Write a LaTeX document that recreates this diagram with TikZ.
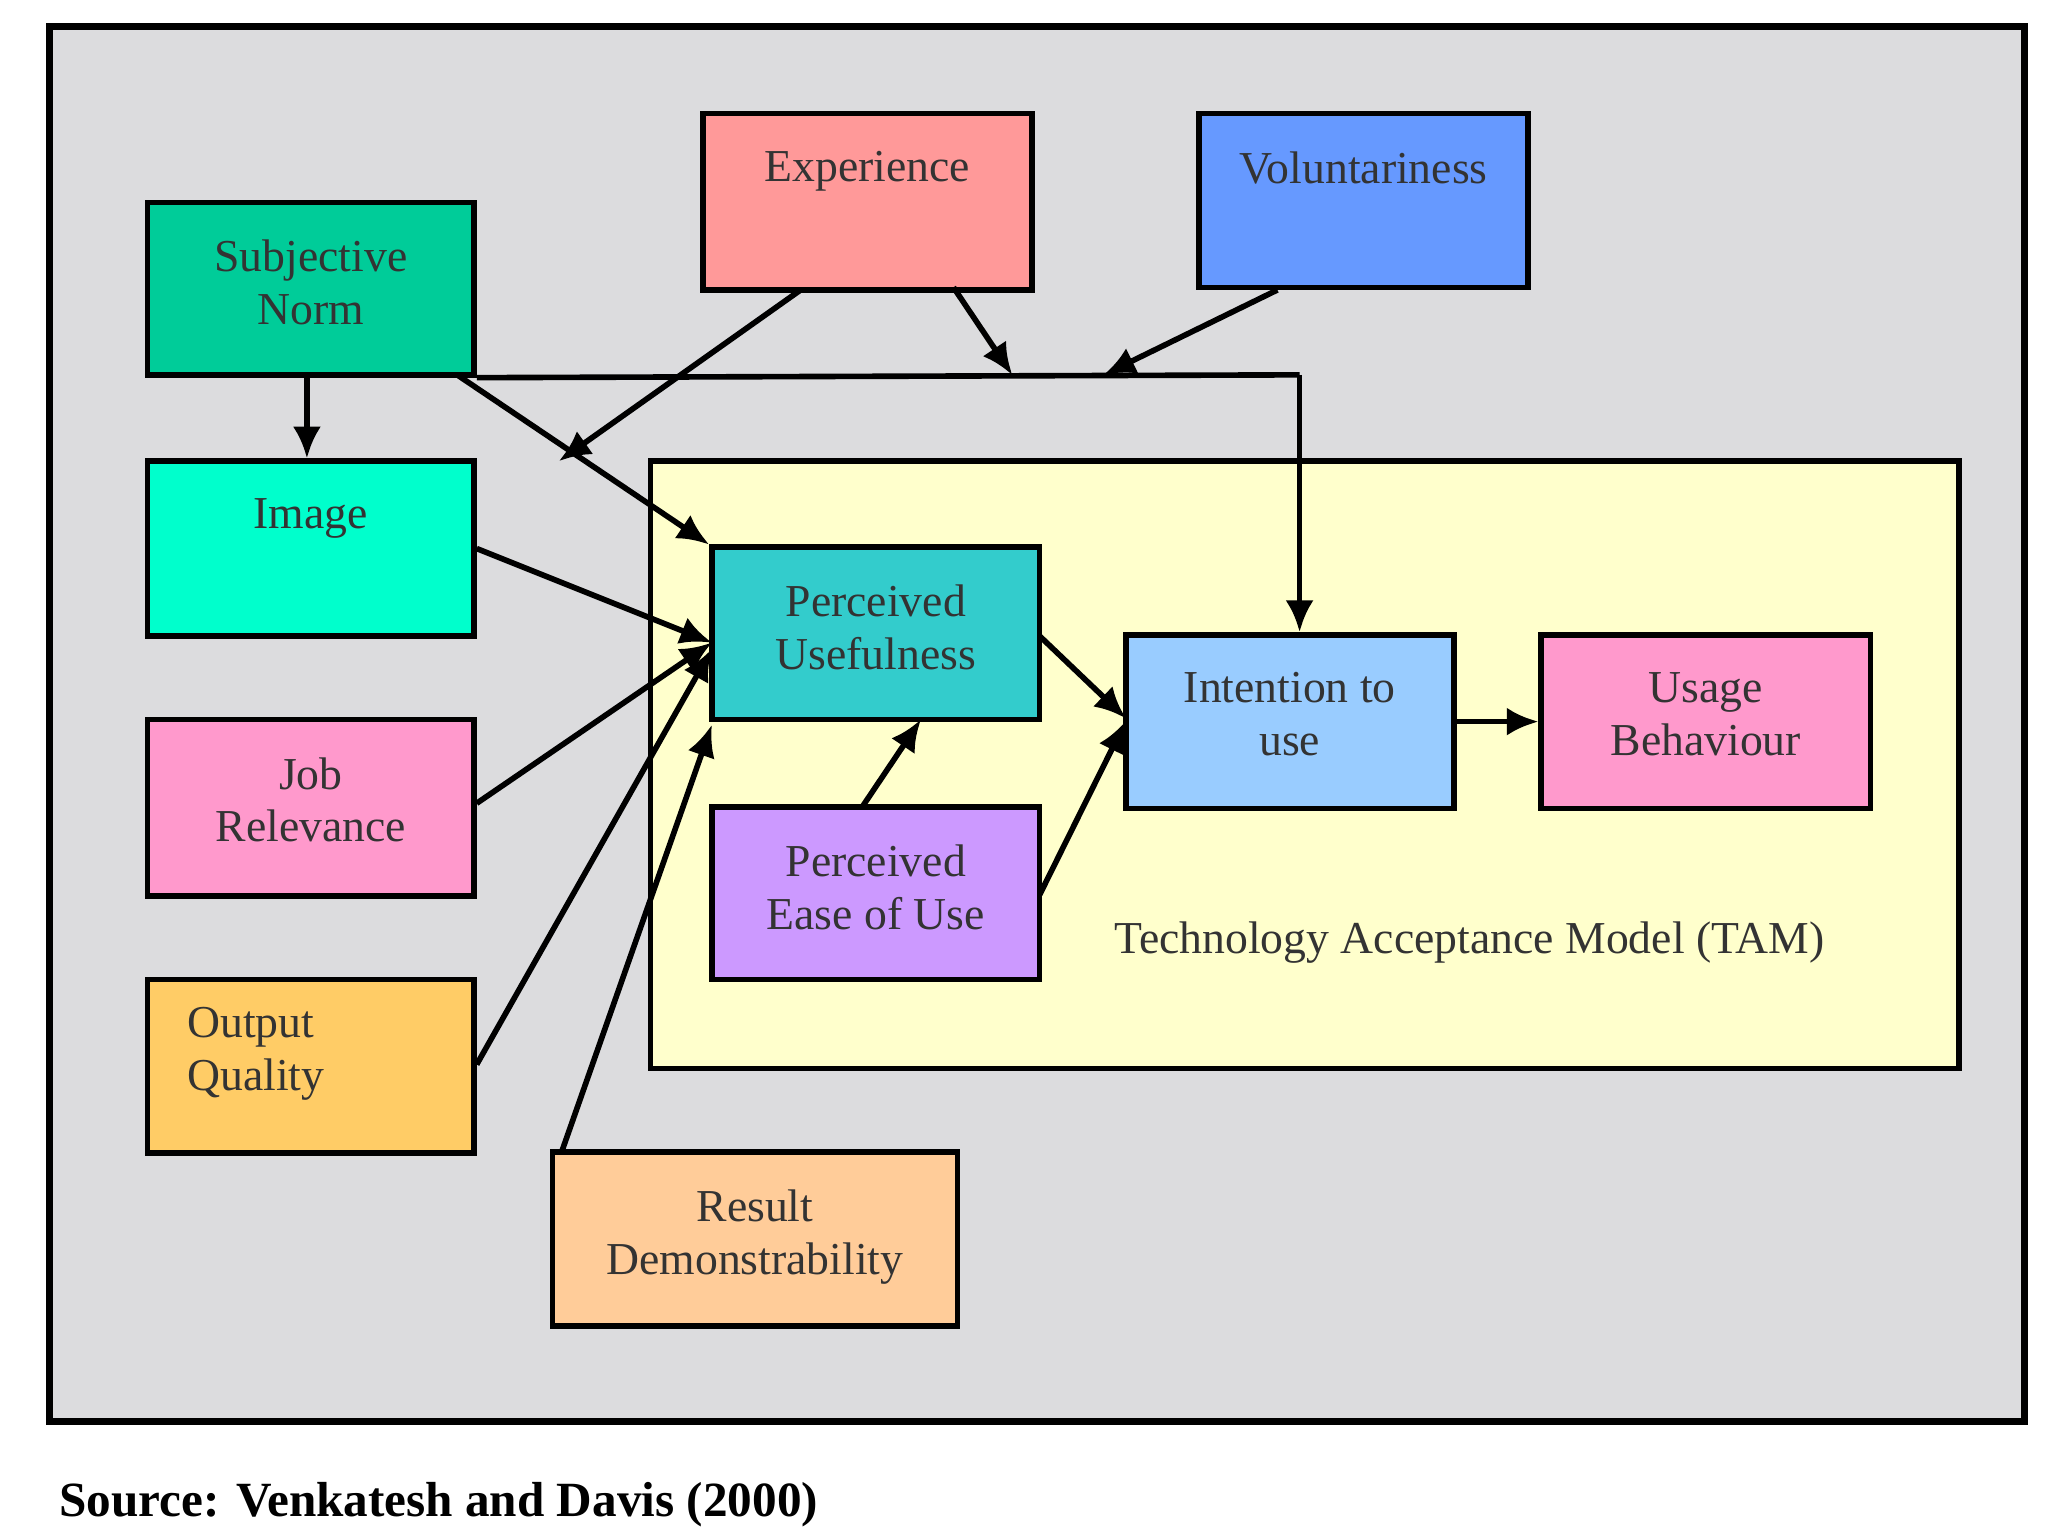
\documentclass[tikz,border=0pt]{standalone}
\usepackage{fontspec}
\setmainfont{Liberation Serif}
\usetikzlibrary{fit,arrows.meta}
\definecolor{bg}{HTML}{DCDCDE}
\definecolor{tam}{HTML}{FFFFCC}
\definecolor{cexp}{HTML}{FF9999}
\definecolor{cvol}{HTML}{6699FF}
\definecolor{csn}{HTML}{00CC99}
\definecolor{cimg}{HTML}{00FFCC}
\definecolor{cjob}{HTML}{FF99CC}
\definecolor{cout}{HTML}{FFCC66}
\definecolor{cres}{HTML}{FFCC99}
\definecolor{cpu}{HTML}{33CCCC}
\definecolor{cpeou}{HTML}{CC99FF}
\definecolor{citu}{HTML}{99CCFF}
\definecolor{cub}{HTML}{FF99CC}
\begin{document}
\begin{tikzpicture}[x=0.013061cm,y=-0.013061cm,
  box/.style={draw=black,line width=1.6pt,inner sep=0pt},
  txt/.style={font=\fontsize{13}{15}\selectfont,align=center,text=black!80},
  arr/.style={line width=1.6pt,-{Latex[length=9pt,width=8pt]}},
  ln/.style={line width=1.6pt}]
\useasboundingbox (0,0) rectangle (1568,1176);
\fill[white] (0,0) rectangle (1568,1176);
\newcommand\bx[7]{\node[box,fill=#6,fit={(#2,#3)(#4,#5)}] (#1) {};
  \node[txt,anchor=north,yshift=-8pt] (#1t) at (#1.north) {#7};}
\node[box,fill=bg,line width=2pt,fit={(38,20)(1550,1088)}] (outer) {};
\node[box,fill=tam,fit={(498,353)(1500,818)}] (tamb) {};
\bx{exp}{538}{87}{790}{222}{cexp}{Experience}
\bx{vol}{918}{87}{1170}{220}{cvol}{Voluntariness}
\bx{sn}{113}{155}{363}{287}{csn}{Subjective\\Norm}
\bx{img}{113}{353}{363}{487}{cimg}{Image}
\bx{job}{113}{551}{363}{686}{cjob}{Job\\Relevance}
\node[box,fill=cout,fit={(113,750)(363,883)}] (out) {};
\node[txt,align=left,anchor=north west] (outt) at (134,762) {Output\\Quality};
\bx{res}{423}{882}{733}{1015}{cres}{Result\\Demonstrability}
\bx{pu}{545}{419}{796}{551}{cpu}{Perceived\\Usefulness}
\bx{peou}{545}{618}{796}{750}{cpeou}{Perceived\\Ease of Use}
\bx{itu}{862}{486}{1113}{619}{citu}{Intention to\\use}
\bx{ub}{1180}{486}{1432}{619}{cub}{Usage\\Behaviour}
\node[txt] (tl) at (1125,722) {Technology Acceptance Model (TAM)};
\node[font=\bfseries\fontsize{14}{16}\selectfont,anchor=west] (src) at (36,1152) {Source: Venkatesh and Davis (2000)};
\coordinate (j1) at (995,287);
\coordinate (a1) at (775,287);
\coordinate (a2) at (845,287);
\coordinate (a3) at (428,353);
\draw[arr] (235,287) -- (img.north -| 235,0);
\draw[arr] (350,287) -- (pu.north west);
\draw[arr] (613,222) -- (a3);
\draw[arr] (730,220) -- (a1);
\draw[arr] (978,222) -- (a2);
\draw[ln] (sn.south east) -- (j1);
\draw[arr] (j1) -- (itu.north -| j1);
\draw[arr] (365,420) -- (545,492);
\draw[arr] (365,615) -- (545,492);
\draw[arr] (365,815) -- (545,497);
\draw[arr] (430,882) -- (545,555);
\draw[arr] (660,618) -- (705,551);
\draw[arr] (796,487) -- (862,550);
\draw[arr] (796,685) -- (862,552);
\draw[arr] (itu.east) -- (ub.west);
\end{tikzpicture}
\end{document}
